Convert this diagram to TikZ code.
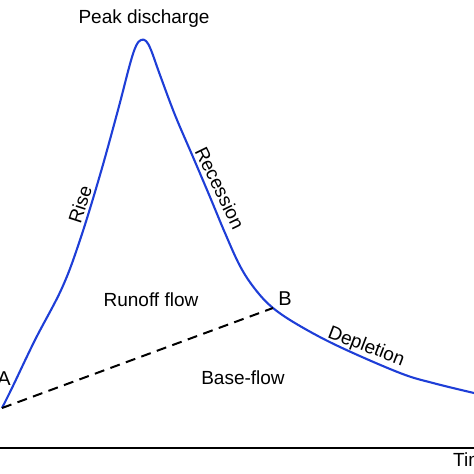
\documentclass[tikz,border=0pt]{standalone}
\usepackage{fontspec}
\setmainfont{Liberation Sans}
\usepackage{tikz}
\usetikzlibrary{positioning,calc}
\definecolor{hydBlue}{RGB}{30,62,215}

\begin{document}
\begin{tikzpicture}[x=1pt, y=-1pt,
  lbl/.style={font=\fontsize{19}{22}\selectfont, inner sep=1pt},
  ptlbl/.style={font=\fontsize{20}{23}\selectfont, inner sep=1pt},
  hydro/.style={hydBlue, line width=2.1pt, line join=round},
  baseline/.style={black, line width=2pt, dash pattern=on 10pt off 6.5pt},
  axisline/.style={black, line width=1.5pt}
]
\useasboundingbox (0,0) rectangle (474,474);
\clip (0,0) rectangle (474,474);
%% Time axis
\coordinate (O) at (0,448);
\coordinate (E) at (474,448);
\draw[axisline] (O) -- (E);
\node[lbl, anchor=west] (time) at (452,460) {Time};
%% Hydrograph
\draw[hydro] plot[smooth, tension=0.6] coordinates {
  (2,408) (12,388) (35,340) (62,288) (80,240) (100,175)
  (118,110) (130,64) (136,46) (141,40) (146,41) (151,50)
  (160,75) (175,115) (193,157) (210,197) (225,233) (240,266)
  (255,289) (273,308) (300,326) (340,347) (400,373) (433,383)
  (474,393)};
%% Base-flow separation
\coordinate (A) at (2,408);
\coordinate (B) at (273,308);
\draw[baseline] (A) -- (B);
\node[ptlbl] (Alab) at (4,379) {A};
\node[ptlbl] (Blab) at (285,299) {B};
%% Labels
\node[lbl] (peak) at (144,19) {Peak discharge};
\node[lbl, rotate=72] (rise) at (80,204) {Rise};
\node[lbl, rotate=-64] (recess) at (220,188) {Recession};
\node[lbl, rotate=-21] (deplet) at (366,347) {Depletion};
\node[lbl] (runoff) at (151,300) {Runoff flow};
\node[lbl] (base) at (243,378) {Base-flow};
\end{tikzpicture}
\end{document}
